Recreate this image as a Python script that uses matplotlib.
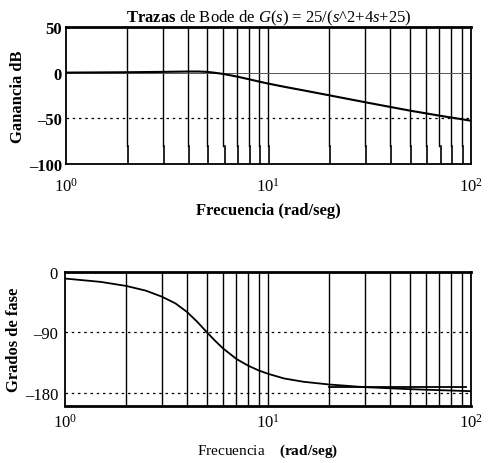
import numpy as np
import matplotlib.pyplot as plt

plt.rcParams['font.family'] = ['Liberation Serif', 'DejaVu Serif']
plt.rcParams['mathtext.fontset'] = 'custom'
plt.rcParams['mathtext.rm'] = 'Liberation Serif'
plt.rcParams['mathtext.it'] = 'Liberation Serif:italic'
plt.rcParams['mathtext.bf'] = 'Liberation Serif:bold'

# datos
freq = [1, 2, 3, 4, 4.5, 5, 5.5, 6, 7, 8, 9, 10, 12, 15, 20, 30, 40, 50, 70, 100]
ganancia_db = [0, 0.4, 0.8, 1.2, 1.2, 0.8, -0.3, -1.5, -4.3, -7.2, -9.8, -12,
               -15.5, -19.5, -24.8, -32.3, -37.5, -41.5, -47, -52.5]
freq_fase = [1, 1.5, 2, 2.5, 3, 3.5, 4, 4.5, 5, 5.5, 6, 7, 8, 9, 10, 12, 15, 20, 30, 50, 100]
fase_grados = [-10, -15, -21, -28, -37, -47, -60, -75, -90, -103, -114, -130, -140,
               -147, -152, -159, -164, -168, -172, -175, -178]
linea_extra_x = [20, 95]
linea_extra_y = [-172.5, -172.5]

rejilla_x = [2, 3, 4, 5, 6, 7, 8, 9, 10, 20, 30, 40, 50, 60, 70, 80, 90]
ticks_gan = [50, 0, -50, -100]
etiq_gan = ['50', '0', '\u201350', '\u2013100']
ticks_fase = [0, -90, -180]
etiq_fase = ['0', '\u201390', '\u2013180']
ticks_x = [1, 10, 100]
etiq_x = ['$10^0$', '$10^1$', '$10^2$']

fig = plt.figure(figsize=(4.92, 4.64), dpi=100)
ax1 = fig.add_axes([0.134, 0.644, 0.823, 0.296])
ax2 = fig.add_axes([0.132, 0.123, 0.825, 0.289])

# --- ganancia ---
ax1.set_xscale('log')
ax1.set_xlim(1, 100)
ax1.set_ylim(-100, 50)
for xv in rejilla_x:
    ax1.plot([xv, xv], [50, -80], color='black', lw=1.0)
    ax1.plot([xv * 1.012, xv * 1.012], [-80, -100], color='black', lw=1.2)
ax1.axhline(0, color='#555555', lw=0.7)
ax1.axhline(-50, color='black', lw=0.9, ls=(0, (2, 3)))
ax1.plot(freq, ganancia_db, color='black', lw=1.5)
ax1.set_yticks(ticks_gan)
ax1.set_yticklabels(etiq_gan, fontsize=12, fontweight='bold')
ax1.set_xticks(ticks_x)
ax1.set_xticklabels(etiq_x, fontsize=12)
ax1.minorticks_off()
ax1.tick_params(axis='y', length=0, pad=3)
ax1.tick_params(axis='x', length=0, pad=9)
ax1.set_ylabel('Ganancia dB', fontsize=12, fontweight='bold', labelpad=2)
ax1.set_xlabel('Frecuencia (rad/seg)', fontsize=12, fontweight='bold', labelpad=5)
ax1.set_title(r'$\mathbf{Trazas}$ de Bode de $G(s)$ = 25/($s$^2+4$s$+25)', fontsize=12, pad=4)
for sp in ax1.spines.values():
    sp.set_linewidth(1.3)
ax1.spines['top'].set_linewidth(2)

# --- fase ---
ax2.set_xscale('log')
ax2.set_xlim(1, 100)
ax2.set_ylim(-200, 0)
for xv in rejilla_x:
    ax2.axvline(xv, color='black', lw=1.0)
ax2.axhline(-90, color='black', lw=0.9, ls=(0, (2, 3)))
ax2.axhline(-180, color='black', lw=0.9, ls=(0, (2, 3)))
ax2.plot(linea_extra_x, linea_extra_y, color='black', lw=1.3)
ax2.plot(freq_fase, fase_grados, color='black', lw=1.3)
ax2.set_yticks(ticks_fase)
ax2.set_yticklabels(etiq_fase, fontsize=12)
ax2.set_xticks(ticks_x)
ax2.set_xticklabels(etiq_x, fontsize=12)
ax2.minorticks_off()
ax2.tick_params(length=0, pad=5)
ax2.set_ylabel('Grados de fase', fontsize=12, fontweight='bold', labelpad=2)
ax2.set_xlabel(r'Frecuencia    $\mathbf{(rad/seg)}$', fontsize=11, labelpad=8)
for sp in ax2.spines.values():
    sp.set_linewidth(1.3)
ax2.spines['top'].set_linewidth(2)
ax2.spines['bottom'].set_linewidth(2)

fig.savefig('out.png', dpi=100)
